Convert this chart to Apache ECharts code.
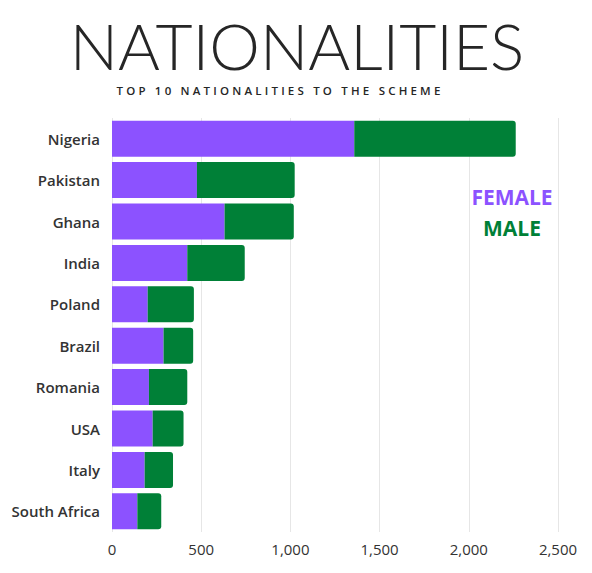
<!DOCTYPE html>
<html>
<head>
<meta charset="utf-8">
<script src="https://cdn.jsdelivr.net/npm/echarts@6/dist/echarts.min.js"></script>
<style>
html,body{margin:0;padding:0;background:#fff;}
#chart{width:592px;height:573px;}
</style>
</head>
<body>
<div id="chart"></div>
<script>
const categories = ['Nigeria','Pakistan','Ghana','India','Poland','Brazil','Romania','USA','Italy','South Africa'];
const female = [1358, 476, 631, 422, 200, 289, 207, 228, 183, 142];
const male = [905, 548, 388, 322, 259, 166, 215, 173, 159, 134];
const xTicks = [0, 500, 1000, 1500, 2000, 2500];
const titleText = 'NATIONALITIES';
const subtitleText = 'TOP 10 NATIONALITIES TO THE SCHEME';

const PURPLE = '#8c52ff';
const GREEN = '#008037';

const chart = echarts.init(document.getElementById('chart'), null, {renderer:'svg'});
chart.setOption({
  backgroundColor: '#ffffff',
  animation: false,
  graphic: [
    {type:'text', x:297, y:45, style:{text:titleText, font:'300 64px Lato', fill:'#262626', textAlign:'center', textVerticalAlign:'middle'}},
    {type:'text', x:280, y:90, style:{text:subtitleText, font:'600 11.5px "Open Sans"', fill:'#262626', textAlign:'center', textVerticalAlign:'middle'}},
    {type:'text', x:512, y:197, style:{text:'FEMALE', font:'bold 21px "Open Sans"', fill:PURPLE, textAlign:'center', textVerticalAlign:'middle'}},
    {type:'text', x:512, y:228, style:{text:'MALE', font:'bold 21px "Open Sans"', fill:GREEN, textAlign:'center', textVerticalAlign:'middle'}}
  ],
  grid: {left:112, right:34, top:118, bottom:41, containLabel:false},
  xAxis: {
    type:'value', min:0, max:2500, interval:500,
    axisLine:{show:false}, axisTick:{show:false},
    splitLine:{show:true, lineStyle:{color:'#e6e6e6', width:1}},
    axisLabel:{
      margin:9, color:'#333', fontSize:15, fontFamily:'"Open Sans"',
      formatter: v => xTicks.includes(v) ? v.toLocaleString('en-US') : ''
    }
  },
  yAxis: {
    type:'category', data:categories, inverse:true,
    axisLine:{show:false}, axisTick:{show:false}, splitLine:{show:false},
    axisLabel:{margin:12, color:'#333', fontSize:15, fontWeight:600, fontFamily:'"Open Sans"'}
  },
  series: [
    {name:'Female', type:'bar', stack:'total', data:female, barWidth:36,
     itemStyle:{color:PURPLE, borderRadius:0}},
    {name:'Male', type:'bar', stack:'total', data:male, barWidth:36,
     itemStyle:{color:GREEN, borderRadius:[0,3,3,0]}}
  ]
});

function spaceSubtitle(){
  document.querySelectorAll('#chart text').forEach(function(t){
    if (t.textContent === subtitleText) {
      t.setAttribute('letter-spacing', '3.2px');
      t.style.letterSpacing = '3.2px';
    }
  });
}
spaceSubtitle();
chart.on('finished', spaceSubtitle);
setTimeout(spaceSubtitle, 50);
</script>
</body>
</html>
